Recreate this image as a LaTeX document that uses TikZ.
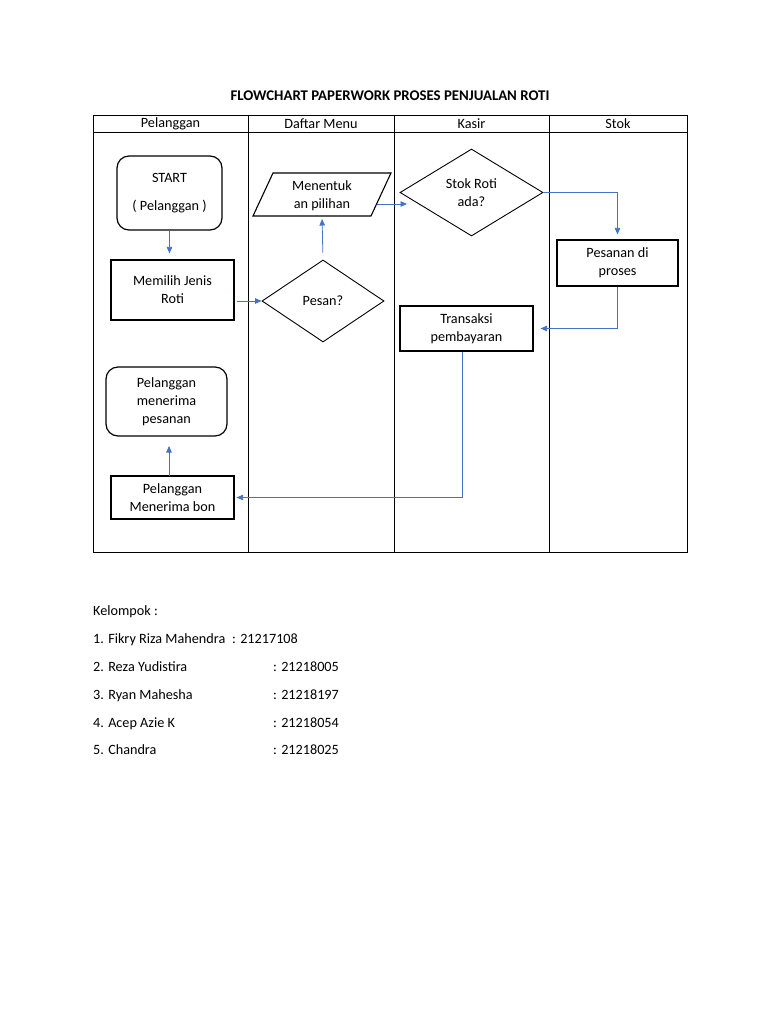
\documentclass[tikz,border=0pt]{standalone}
\usepackage{fontspec}
\setmainfont{Carlito}
\usetikzlibrary{shapes.geometric,arrows.meta}
\definecolor{arrowblue}{HTML}{4472C4}
\begin{document}
\begin{tikzpicture}[x=1pt,y=-1pt,
  txt/.style={font=\fontsize{14.2}{18}\selectfont, align=center},
  hdr/.style={font=\fontsize{14.2}{18}\selectfont},
  box/.style={draw, line width=1.2pt, rectangle, inner sep=0pt, txt},
  rbox/.style={box, rounded corners=12pt},
  dia/.style={draw, diamond, inner sep=0pt, txt, line width=0.9pt},
  flow/.style={draw=arrowblue, line width=0.8pt, -{Triangle[length=6.5pt,width=5.5pt]}},
  lst/.style={anchor=mid west, font=\fontsize{14.2}{18}\selectfont, inner sep=0pt}
]
\useasboundingbox (0,0) rectangle (768,1024);
\fill[white] (0,0) rectangle (768,1024);

% title
\node[font=\fontsize{14.8}{18}\selectfont\bfseries] (title) at (390,96) {FLOWCHART PAPERWORK PROSES PENJUALAN ROTI};

% table
\draw[line width=0.8pt] (93,115) rectangle (687,552);
\draw[line width=0.8pt] (93,132) -- (687,132);
\foreach \x in {248,394,549} \draw[line width=0.8pt] (\x,115) -- (\x,552);
\node[hdr] (h1) at (170.5,124) {Pelanggan};
\node[hdr] (h2) at (321,124) {Daftar Menu};
\node[hdr] (h3) at (471.5,124) {Kasir};
\node[hdr] (h4) at (618,124) {Stok};

% nodes
\node[rbox, minimum width=105pt, minimum height=74pt] (start) at (169.5,193) {START\\[10pt]( Pelanggan )};
\node[box, minimum width=123pt, minimum height=60pt] (memilih) at (172.5,290) {Memilih Jenis\\Roti};
\node[dia, minimum width=122pt, minimum height=82pt] (pesan) at (323,301) {Pesan?};
\draw[line width=1.1pt] (273,173) -- (391,173) -- (371,216) -- (253,216) -- cycle;
\node[txt, inner sep=0pt] (menentu) at (322,196) {Menentuk\\an pilihan};
\coordinate (menentuB) at (322,216);
\coordinate (menentuR) at (376.6,204);
\node[dia, minimum width=143pt, minimum height=87pt] (stok) at (471.5,192.5) {Stok Roti\\ada?};
\coordinate (stokIn) at (407,204);
\node[box, minimum width=121pt, minimum height=46pt] (pesanan) at (617.5,263) {Pesanan di\\proses};
\node[box, minimum width=133pt, minimum height=45pt] (transaksi) at (466.5,328.5) {Transaksi\\pembayaran};
\node[box, minimum width=123pt, minimum height=43pt] (bon) at (172.5,497.5) {Pelanggan\\Menerima bon};
\node[rbox, minimum width=121pt, minimum height=69pt] (terima) at (166.5,401.5) {Pelanggan\\menerima\\pesanan};

% connectors
\draw[flow, shorten >=6pt] (start.south) -- (start.south |- memilih.north);
\draw[flow, shorten <=2pt] (memilih.east |- pesan.west) -- (pesan.west);
\draw[flow, shorten <=7pt, shorten >=3pt] (pesan.north) -- (menentuB);
\draw[flow] (menentuR) -- (stokIn);
\draw[flow, shorten >=5pt] (stok.east) -| (pesanan.north);
\draw[flow, shorten >=7pt] (pesanan.south) |- (transaksi.east);
\draw[flow, shorten >=2pt] ([xshift=-4.5pt]transaksi.south) |- (bon.east);
\coordinate (bonN) at (169,476);
\coordinate (terS) at (169,436);
\draw[flow, shorten >=10pt] (bonN) -- (terS);

% group list
\node[lst] (k0) at (93,613) {Kelompok :};
\node[lst] (n1) at (93,641) {1. Fikry Riza Mahendra};
\node[lst] (c1) at (232,641) {: 21217108};
\node[lst] (n2) at (93,669) {2. Reza Yudistira};
\node[lst] (c2) at (273,669) {: 21218005};
\node[lst] (n3) at (93,697) {3. Ryan Mahesha};
\node[lst] (c3) at (273,697) {: 21218197};
\node[lst] (n4) at (93,725) {4. Acep Azie K};
\node[lst] (c4) at (273,725) {: 21218054};
\node[lst] (n5) at (93,752) {5. Chandra};
\node[lst] (c5) at (273,752) {: 21218025};
\end{tikzpicture}
\end{document}
